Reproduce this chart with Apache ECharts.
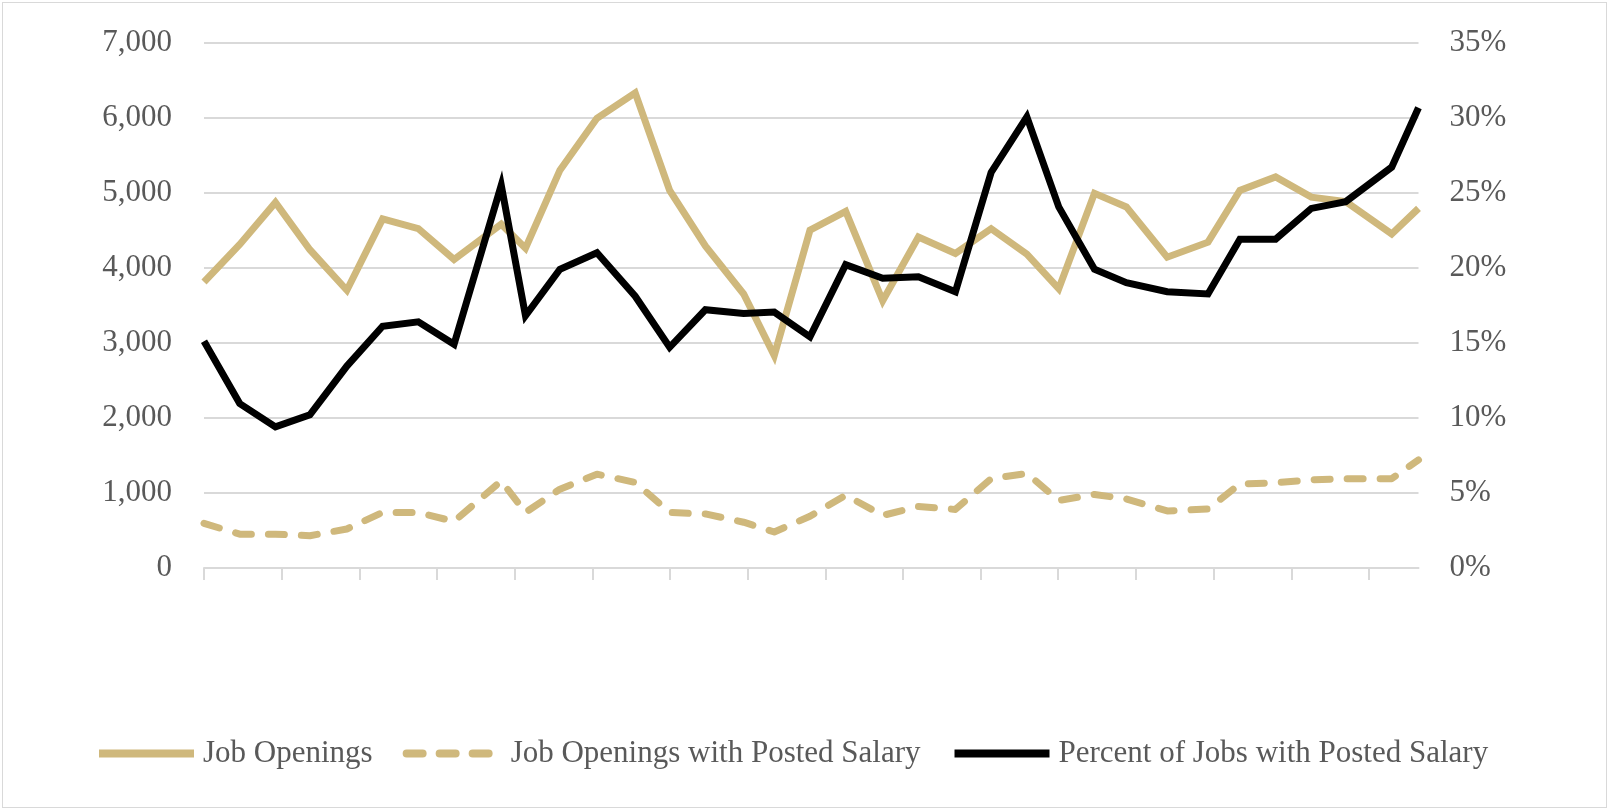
<!DOCTYPE html>
<html>
<head>
<meta charset="utf-8">
<title>Job Openings and Posted Salary</title>
<script src="https://cdn.jsdelivr.net/npm/echarts@6/dist/echarts.min.js"></script>
<style>
    html, body { margin: 0; padding: 0; background: #fff; }
    #main { width: 1613px; height: 811px; }
    #frame { position: absolute; left: 2px; top: 2px; width: 1603px; height: 804px; border: 1px solid #d9d9d9; pointer-events: none; }
</style>
</head>
<body>
<div id="main"></div>
<div id="frame"></div>
<script>
    // days since the first observation (x axis has no labels, ticks are monthly)
    var dayOffsets = [0, 14, 28, 41.5, 56, 70, 84, 98, 116.5, 126, 139.5, 154, 169, 182.5, 196.5, 211.5, 223.5,
        237.5, 251.5, 266, 280, 294.5, 308.5, 322.5, 335, 349, 361.5, 377.5, 393.5, 406, 420, 434, 447.5, 465.5, 476];

    var jobOpenings = [3810, 4310, 4870, 4240, 3700, 4650, 4520, 4110, 4580, 4260, 5300, 5990, 6330, 5030, 4290,
        3650, 2830, 4500, 4750, 3560, 4410, 4190, 4520, 4180, 3720, 4990, 4810, 4140, 4340, 5030, 5210, 4940,
        4880, 4450, 4790];

    var postedSalary = [595, 450, 450, 430, 520, 740, 740, 620, 1160, 740, 1050, 1250, 1140, 740, 720, 610, 480,
        690, 970, 700, 820, 780, 1190, 1260, 900, 980, 920, 760, 785, 1120, 1135, 1175, 1190, 1190, 1440];

    var percentPosted = [15.1, 10.95, 9.4, 10.2, 13.45, 16.1, 16.4, 14.9, 25.5, 16.8, 19.9, 21.0, 18.1, 14.7,
        17.2, 16.95, 17.05, 15.4, 20.2, 19.3, 19.4, 18.4, 26.35, 30.05, 24.05, 19.9, 19.0, 18.4, 18.25, 21.9,
        21.9, 23.95, 24.4, 26.7, 30.65];

    var monthTicks = [0, 30.4, 60.9, 91.3, 121.8, 152.2, 182.6, 213.1, 243.5, 274, 304.4, 334.8, 365.3, 395.7,
        426.2, 456.6];

    var seriesNames = ['Job Openings', 'Job Openings with Posted Salary', 'Percent of Jobs with Posted Salary'];

    var GOLD = '#CFB87C';
    var GRID = '#d9d9d9';
    var TEXT = '#595959';
    var FONT = '"Liberation Serif", "Times New Roman", serif';

    function pairs(values) {
        return dayOffsets.map(function (d, i) { return [d, values[i]]; });
    }

    var chart = echarts.init(document.getElementById('main'));

    var option = {
        animation: false,
        grid: {
            left: 204,
            right: 194.5,
            top: 42.5,
            bottom: 243
        },
        legend: {
            data: seriesNames,
            left: 95,
            top: 738,
            padding: 0,
            itemWidth: 95,
            itemHeight: 14,
            itemGap: 30,
            itemStyle: { opacity: 0 },
            lineStyle: { width: 8 },
            textStyle: {
                color: TEXT,
                fontFamily: FONT,
                fontSize: 31,
                padding: [0, 0, 0, 4]
            }
        },
        xAxis: {
            type: 'value',
            min: 0,
            max: 476,
            axisLine: { lineStyle: { color: GRID, width: 2 } },
            axisTick: {
                show: true,
                customValues: monthTicks,
                length: 12,
                lineStyle: { color: GRID, width: 2 }
            },
            axisLabel: { show: false },
            splitLine: { show: false }
        },
        yAxis: [
            {
                type: 'value',
                min: 0,
                max: 7000,
                interval: 1000,
                axisLine: { show: false },
                axisTick: { show: false },
                axisLabel: {
                    color: TEXT,
                    fontFamily: FONT,
                    fontSize: 31,
                    margin: 32,
                    formatter: function (v) { return v.toLocaleString('en-US'); }
                },
                splitLine: { lineStyle: { color: GRID, width: 2 } }
            },
            {
                type: 'value',
                min: 0,
                max: 35,
                interval: 5,
                position: 'right',
                axisLine: { show: false },
                axisTick: { show: false },
                axisLabel: {
                    color: TEXT,
                    fontFamily: FONT,
                    fontSize: 31,
                    margin: 31,
                    formatter: '{value}%'
                },
                splitLine: { show: false }
            }
        ],
        series: [
            {
                name: seriesNames[0],
                type: 'line',
                symbol: 'none',
                data: pairs(jobOpenings),
                lineStyle: { color: GOLD, width: 7, join: 'miter' },
                itemStyle: { color: GOLD }
            },
            {
                name: seriesNames[1],
                type: 'line',
                symbol: 'none',
                data: pairs(postedSalary),
                lineStyle: { color: GOLD, width: 7, type: [16, 17], cap: 'round', join: 'round' },
                itemStyle: { color: GOLD }
            },
            {
                name: seriesNames[2],
                type: 'line',
                symbol: 'none',
                yAxisIndex: 1,
                data: pairs(percentPosted),
                lineStyle: { color: '#000', width: 7, join: 'miter' },
                itemStyle: { color: '#000' }
            }
        ]
    };

    chart.setOption(option);
</script>
</body>
</html>
